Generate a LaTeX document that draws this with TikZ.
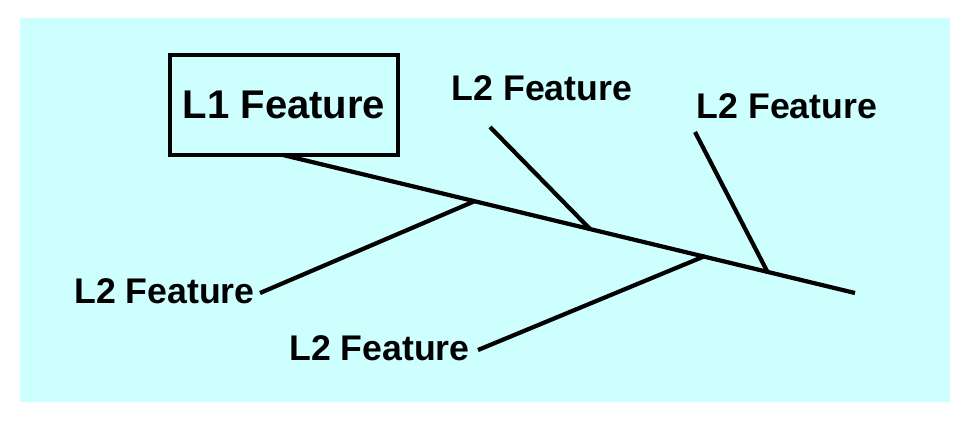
\documentclass[tikz,border=0pt]{standalone}
\usepackage{fontspec}
\setmainfont{Liberation Sans}
\begin{document}
\begin{tikzpicture}[x=0.02cm,y=-0.02cm,
  ln/.style={line width=2.4pt,black},
  lbl/.style={font=\bfseries\fontsize{20.3}{22}\selectfont,inner sep=0pt}]
\useasboundingbox (0,0) rectangle (969,422);
\fill[white] (0,0) rectangle (969,422);
\fill[fill={rgb,255:red,206;green,255;blue,255}] (20,18) rectangle (950,402);
\node[draw,line width=2.4pt,minimum width=228*0.02cm,minimum height=100*0.02cm,font=\bfseries\fontsize{22.8}{24}\selectfont] (l1) at (284,105) {L1 Feature};
\coordinate (s) at (283,155);
\coordinate (e) at (855,293);
\coordinate (j1) at (475,201);
\coordinate (j2) at (590,229);
\coordinate (j3) at (705,256);
\coordinate (j4) at (767,271);
\draw[ln] (s) -- (e);
\node[lbl] (a) at (542,88) {L2 Feature};
\node[lbl] (b) at (787,106) {L2 Feature};
\node[lbl,anchor=east] (c) at (255,291) {L2 Feature};
\node[lbl,anchor=east] (d) at (470,348) {L2 Feature};
\coordinate (a1) at (490,127);
\coordinate (b1) at (695,132);
\coordinate (c1) at (260,293);
\coordinate (d1) at (478,350);
\draw[ln] (a1) -- (j2);
\draw[ln] (b1) -- (j4);
\draw[ln] (c1) -- (j1);
\draw[ln] (d1) -- (j3);
\end{tikzpicture}
\end{document}
